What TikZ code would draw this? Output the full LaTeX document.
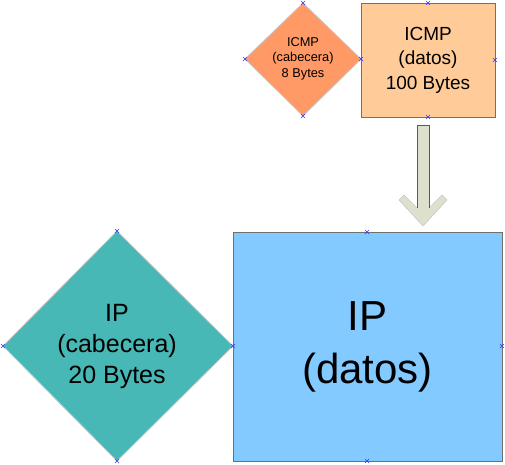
\documentclass[tikz,border=0pt]{standalone}
\usepackage{fontspec}
\setmainfont{Liberation Sans}
\usetikzlibrary{shapes.geometric}
\definecolor{icmphead}{HTML}{FF9966}
\definecolor{icmpdata}{HTML}{FFCC99}
\definecolor{iphead}{HTML}{47B8B5}
\definecolor{ipdata}{HTML}{82CAFF}
\definecolor{arrowfill}{HTML}{DDE0CC}
\definecolor{boxline}{HTML}{707070}
\definecolor{dialine}{HTML}{C8C8C8}
\definecolor{markblue}{HTML}{3333FF}
\begin{document}
\begin{tikzpicture}[x=1pt,y=-1pt,
  diabox/.style={draw=dialine,line width=0.8pt,inner sep=0pt,align=center},
  rectbox/.style={draw=boxline,line width=1pt,inner sep=0pt,align=center},
  xmark/.style={draw=markblue,line width=0.5pt}]
\useasboundingbox (0,0) rectangle (505,464);
% ICMP header diamond
\path[diabox,fill=icmphead] (303,3) -- (361,59) -- (303,116) -- (245,59) -- cycle;
\node[font=\fontsize{12.8}{15.5}\selectfont,align=center] (icmph) at (303,58.5) {ICMP\\(cabecera)\\8 Bytes};
% ICMP data box
\node[rectbox,fill=icmpdata,minimum width=134pt,minimum height=114pt,
  font=\fontsize{19}{24.5}\selectfont] (icmpd) at (428,60) {ICMP\\(datos)\\100 Bytes};
% IP header diamond
\path[diabox,fill=iphead] (117,231) -- (233,346) -- (117,461) -- (3,346) -- cycle;
\node[font=\fontsize{25}{31}\selectfont,align=center] (iph) at (117,346) {IP\\(cabecera)\\20 Bytes};
% IP data box
\node[rectbox,fill=ipdata,minimum width=269pt,minimum height=229pt,
  font=\fontsize{42}{53}\selectfont] (ipd) at (367.5,346.5) {IP\\(datos)};
% block arrow
\coordinate (arrtop) at (423,125);
\coordinate (arrtip) at (423,226);
\fill[arrowfill] (417,125) -- (429,125) -- (429,208) -- (442,195) -- (447,200) -- (423,226)
  -- (399,200) -- (404,195) -- (417,208) -- cycle;
\draw[dialine,line width=0.6pt] (429,208) -- (442,195) -- (447,200) -- (423,226)
  -- (399,200) -- (404,195) -- (417,208);
\draw[boxline!80!black,line width=1pt] (417,208) -- (417,125) -- (429,125) -- (429,208);
% connection marks
\foreach \p in {(303,3),(361,59),(303,116),(245,59),(428,3),(495,60),(428,117),
  (117,231),(233,346),(117,461),(3,346),(367,232),(502,346),(367,461)}{
  \draw[xmark] \p ++(-2,-2) -- ++(4,4) \p ++(-2,2) -- ++(4,-4);
}
\end{tikzpicture}
\end{document}
